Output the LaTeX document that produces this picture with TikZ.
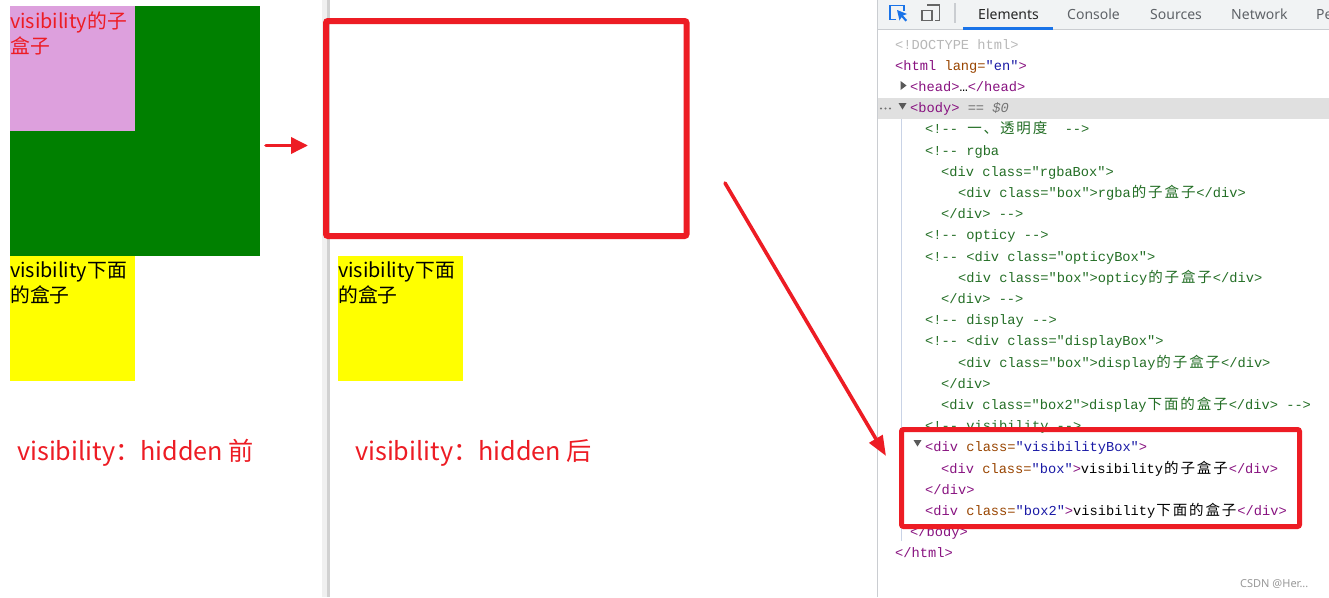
\documentclass[tikz,border=0pt]{standalone}
\usepackage{fontspec}
\setmainfont{Noto Sans CJK SC}
\setmonofont{Liberation Mono}
\newfontfamily\cjk{Noto Sans CJK SC}
\newfontfamily\ui{Noto Sans}
\usetikzlibrary{arrows.meta}
\definecolor{redm}{HTML}{ED1C24}
\definecolor{pinkb}{HTML}{DDA0DD}
\definecolor{greenb}{HTML}{008000}
\definecolor{yel}{HTML}{FFFF00}
\definecolor{tagc}{HTML}{881280}
\definecolor{attrc}{HTML}{994500}
\definecolor{valc}{HTML}{1A1AA6}
\definecolor{cmtc}{HTML}{236E25}
\definecolor{grayt}{HTML}{B8B8B8}
\definecolor{barbg}{HTML}{F1F3F4}
\definecolor{barline}{HTML}{CACDD1}
\definecolor{blueac}{HTML}{1A73E8}
\definecolor{selbg}{HTML}{E0E0E0}
\definecolor{guide}{HTML}{C9D3E6}
\definecolor{tabtxt}{HTML}{5F6368}
\newcommand\cc[1]{\makebox[16.4pt][c]{\fontsize{14.5pt}{14.5pt}\cjk #1}}
\newcommand\Tg[1]{\textcolor{tagc}{#1}}
\newcommand\At[1]{\textcolor{attrc}{#1}}
\newcommand\Av[1]{\textcolor{valc}{#1}}
\newcommand\Cm[1]{\textcolor{cmtc}{#1}}
\tikzset{
  codeline/.style={anchor=base west, inner sep=0pt, font=\fontsize{13.7pt}{16pt}\ttfamily},
  pagetxt/.style={anchor=base west, inner sep=0pt, font=\fontsize{19.8pt}{24pt}\selectfont},
  bigtxt/.style={anchor=base west, inner sep=0pt, text=redm, font=\fontsize{25.2pt}{28pt}\selectfont},
  tabtext/.style={anchor=base west, inner sep=0pt, text=tabtxt, font=\fontsize{14pt}{16pt}\ui},
  redframe/.style={draw=redm, rounded corners=2pt},
  redarrow/.style={draw=redm, line cap=round},
  tri/.style={fill=black!65, draw=none},
}
\begin{document}
\begin{tikzpicture}[x=1pt, y=-1pt]
\useasboundingbox (0,0) rectangle (1329,597);
\fill[white] (0,0) rectangle (1329,597);

% ---------- left page (before) ----------
\fill[greenb] (10,6) rectangle (260,256);
\fill[pinkb] (10,6) rectangle (135,131);
\fill[yel] (10,256) rectangle (135,381);
\node[pagetxt, text=redm] (p1a) at (10,28) {visibility的子};
\node[pagetxt, text=redm] (p1b) at (10,53) {盒子};
\node[pagetxt] (y1a) at (10,277) {visibility下面};
\node[pagetxt] (y1b) at (10,302) {的盒子};
\node[bigtxt] (lab1) at (17,460) {visibility：hidden 前};

\coordinate (a1s) at (266,145.5);
\coordinate (a1e) at (308,145.5);
\draw[redarrow, line width=3.6pt, -{Triangle[length=17pt,width=16pt]}] (a1s) -- (a1e);

% divider
\fill[black!6] (322,0) rectangle (327,597);
\fill[black!18] (327,0) rectangle (329.5,597);

% ---------- middle page (after) ----------
\draw[redframe, line width=6pt] (326,21) rectangle (686.5,236);
\fill[yel] (338,256) rectangle (463,381);
\node[pagetxt] (y2a) at (338,277) {visibility下面};
\node[pagetxt] (y2b) at (338,302) {的盒子};
\node[bigtxt] (lab2) at (355,460) {visibility：hidden 后};

% ---------- devtools ----------
\draw[barline, line width=1pt] (877.5,0) -- (877.5,597);
\fill[barbg] (878,0) rectangle (1329,29);
\draw[barline, line width=1pt] (878,29.5) -- (1329,29.5);
% inspect icon
\draw[blueac, line width=1.6pt] (896,19.5) -- (890,19.5) -- (890,5.5) -- (904,5.5) -- (904,11);
\fill[blueac] (897,10) -- (907,14) -- (903,15.5) -- (907,20) -- (905.5,21.5) -- (901.5,17) -- (899.5,20.5) -- cycle;
% device icon
\draw[black!60, line width=1.5pt] (927,5) -- (939.5,5) -- (939.5,20.5) -- (935,20.5);
\draw[black!60, line width=1.5pt] (922,10.5) rectangle (932,20.5);
\draw[barline, line width=1.2pt] (955,3) -- (955,23);
% tabs
\node[tabtext, text=black!85] (tE) at (978,19) {Elements};
\node[tabtext] (tC) at (1067,19) {Console};
\node[tabtext] (tS) at (1150,19) {Sources};
\node[tabtext] (tN) at (1231,19) {Network};
\node[tabtext] (tP) at (1316,19) {Pe};
\fill[blueac] (963,27) rectangle (1053,30);

% selected body line
\fill[selbg] (878,97.5) rectangle (1329,119);
% guide line
\draw[guide, line width=1pt] (901,119) -- (901,541);

% triangles
\fill[tri] (900.5,81) -- (906.5,85.5) -- (900.5,90) -- cycle;
\fill[tri] (898.5,103) -- (906.5,103) -- (902.5,109.5) -- cycle;
\fill[tri] (913.5,440) -- (921.5,440) -- (917.5,446.5) -- cycle;
% dots
\foreach \dx in {881,885.5,890} \fill[black!55] (\dx,108.5) circle (1.2pt);

% code lines
\node[codeline, text=grayt] (c0) at (895,49) {<!DOCTYPE html>};
\node[codeline] (c1) at (895,70.2) {\Tg{<html} \At{lang=}\Av{"en"}\Tg{>}};
\node[codeline] (c2) at (910,91.4) {\Tg{<head>}…\Tg{</head>}};
\node[codeline] (c3) at (910,112.6) {\Tg{<body>} \textcolor{black!55}{\itshape == \$0}};
\node[codeline] (c4) at (925,133.8) {\Cm{<!-- \cc{一}\cc{、}\cc{透}\cc{明}\cc{度}\ \ -->}};
\node[codeline] (c5) at (925,155) {\Cm{<!-- rgba}};
\node[codeline] (c6) at (941,176.2) {\Cm{<div class="rgbaBox">}};
\node[codeline] (c7) at (958,197.4) {\Cm{<div class="box">rgba\cc{的}\cc{子}\cc{盒}\cc{子}</div>}};
\node[codeline] (c8) at (941,218.6) {\Cm{</div> -->}};
\node[codeline] (c9) at (925,239.8) {\Cm{<!-- opticy -->}};
\node[codeline] (c10) at (925,261) {\Cm{<!-- <div class="opticyBox">}};
\node[codeline] (c11) at (958,282.2) {\Cm{<div class="box">opticy\cc{的}\cc{子}\cc{盒}\cc{子}</div>}};
\node[codeline] (c12) at (941,303.4) {\Cm{</div> -->}};
\node[codeline] (c13) at (925,324.6) {\Cm{<!-- display -->}};
\node[codeline] (c14) at (925,345.8) {\Cm{<!-- <div class="displayBox">}};
\node[codeline] (c15) at (958,367) {\Cm{<div class="box">display\cc{的}\cc{子}\cc{盒}\cc{子}</div>}};
\node[codeline] (c16) at (941,388.2) {\Cm{</div>}};
\node[codeline] (c17) at (941,409.4) {\Cm{<div class="box2">display\cc{下}\cc{面}\cc{的}\cc{盒}\cc{子}</div> -->}};
\node[codeline] (c18) at (925,430.6) {\Cm{<!-- visibility -->}};
\node[codeline] (c19) at (925,451.8) {\Tg{<div} \At{class=}\Av{"visibilityBox"}\Tg{>}};
\node[codeline] (c20) at (941,473) {\Tg{<div} \At{class=}\Av{"box"}\Tg{>}visibility\cc{的}\cc{子}\cc{盒}\cc{子}\Tg{</div>}};
\node[codeline] (c21) at (925,494.2) {\Tg{</div>}};
\node[codeline] (c22) at (925,515.4) {\Tg{<div} \At{class=}\Av{"box2"}\Tg{>}visibility\cc{下}\cc{面}\cc{的}\cc{盒}\cc{子}\Tg{</div>}};
\node[codeline] (c23) at (910,536.6) {\Tg{</body>}};
\node[codeline] (c24) at (895,557.8) {\Tg{</html>}};

% red frame around visibility code
\draw[redframe, line width=5pt] (901.5,429.5) rectangle (1299.5,526.5);

% diagonal arrow
\coordinate (a2s) at (725,183);
\coordinate (a2e) at (886,456);
\draw[redarrow, line width=3.6pt, -{Triangle[length=20pt,width=15pt]}] (a2s) -- (a2e);

% watermark
\node[anchor=base west, inner sep=0pt, text=black!40, font=\fontsize{11pt}{12pt}\ui] (wm) at (1240,587) {CSDN @Her...};
\end{tikzpicture}
\end{document}
